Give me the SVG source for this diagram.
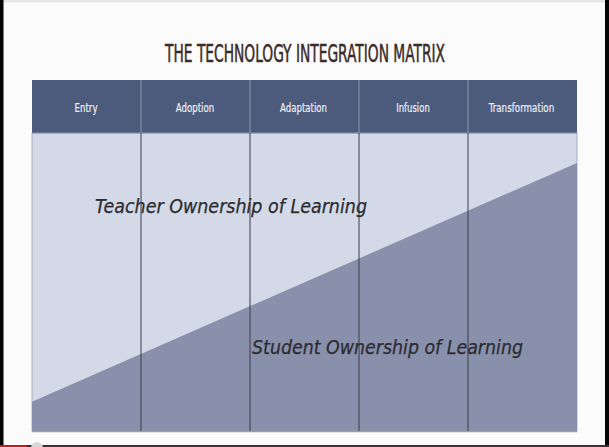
<svg xmlns="http://www.w3.org/2000/svg" width="609" height="447" viewBox="0 0 609 447">
<style>
.hdr{fill:#4c5a7c}
.hl{font-family:"DejaVu Sans Condensed","DejaVu Sans",sans-serif;font-size:13px;fill:#eef0f5;text-anchor:middle;stroke:#eef0f5;stroke-width:0.2}
.own{font-family:"DejaVu Sans","Verdana",sans-serif;font-style:italic;font-size:19.5px;fill:#2b2b30;stroke:#2b2b30;stroke-width:0.25}
.vline{stroke:#3a3c48;stroke-width:1}
.hline{stroke:#8d96b0;stroke-width:1}
</style>
<rect x="0" y="0" width="609" height="447" fill="#fcfbfc"/>
<rect x="0" y="0" width="609" height="2.5" fill="#e6e4e6"/>
<rect x="0" y="0" width="3.5" height="447" fill="#050505"/>
<rect x="605" y="0" width="4" height="447" fill="#050505"/>
<rect x="0" y="445" width="609" height="2" fill="#3a3232"/>
<rect x="0" y="445" width="27" height="2" fill="#cc1a1a"/>
<circle cx="37" cy="448" r="6" fill="#d8d6d6"/>
<text id="title" x="305" y="62" text-anchor="middle" font-family="'DejaVu Sans Condensed','DejaVu Sans',sans-serif" font-size="24" fill="#3b2b28" stroke="#3b2b28" stroke-width="0.5" textLength="280" lengthAdjust="spacingAndGlyphs">THE TECHNOLOGY INTEGRATION MATRIX</text>
<g id="body">
<rect x="32" y="133" width="545" height="298" fill="#d3d9e6" stroke="#9aa0b0" stroke-width="0.8"/>
<polygon points="32,401.7 577,163 577,431 32,431" fill="#8890ab"/>
<line x1="32" y1="431.5" x2="577" y2="431.5" stroke="#a39c9a" stroke-width="1.5"/>
</g>
<g id="col-entry">
<rect class="hdr" x="32" y="80" width="109" height="53"/>
<text class="hl" x="86" y="112" textLength="23" lengthAdjust="spacingAndGlyphs">Entry</text>
</g>
<g id="col-adoption">
<rect class="hdr" x="141" y="80" width="109" height="53"/>
<text class="hl" x="195" y="112" textLength="38.5" lengthAdjust="spacingAndGlyphs">Adoption</text>
</g>
<g id="col-adaptation">
<rect class="hdr" x="250" y="80" width="109" height="53"/>
<text class="hl" x="303.5" y="112" textLength="47" lengthAdjust="spacingAndGlyphs">Adaptation</text>
</g>
<g id="col-infusion">
<rect class="hdr" x="359" y="80" width="109" height="53"/>
<text class="hl" x="413" y="112" textLength="33.5" lengthAdjust="spacingAndGlyphs">Infusion</text>
</g>
<g id="col-transformation">
<rect class="hdr" x="468" y="80" width="109" height="53"/>
<text class="hl" x="521.5" y="112" textLength="65.5" lengthAdjust="spacingAndGlyphs">Transformation</text>
</g>
<g id="grid">
<line class="hline" x1="141" y1="80" x2="141" y2="133"/>
<line class="hline" x1="250" y1="80" x2="250" y2="133"/>
<line class="hline" x1="359" y1="80" x2="359" y2="133"/>
<line class="hline" x1="468" y1="80" x2="468" y2="133"/>
<line class="hline" x1="32" y1="133" x2="577" y2="133" stroke="#9aa2b8"/>
<line class="vline" x1="141" y1="133" x2="141" y2="431"/>
<line class="vline" x1="250" y1="133" x2="250" y2="431"/>
<line class="vline" x1="359" y1="133" x2="359" y2="431"/>
<line class="vline" x1="468" y1="133" x2="468" y2="431"/>
</g>
<g id="teacher">
<text class="own" x="95" y="212.5" textLength="272" lengthAdjust="spacingAndGlyphs">Teacher Ownership of Learning</text>
</g>
<g id="student">
<text class="own" x="252" y="354" textLength="271" lengthAdjust="spacingAndGlyphs">Student Ownership of Learning</text>
</g>
</svg>
